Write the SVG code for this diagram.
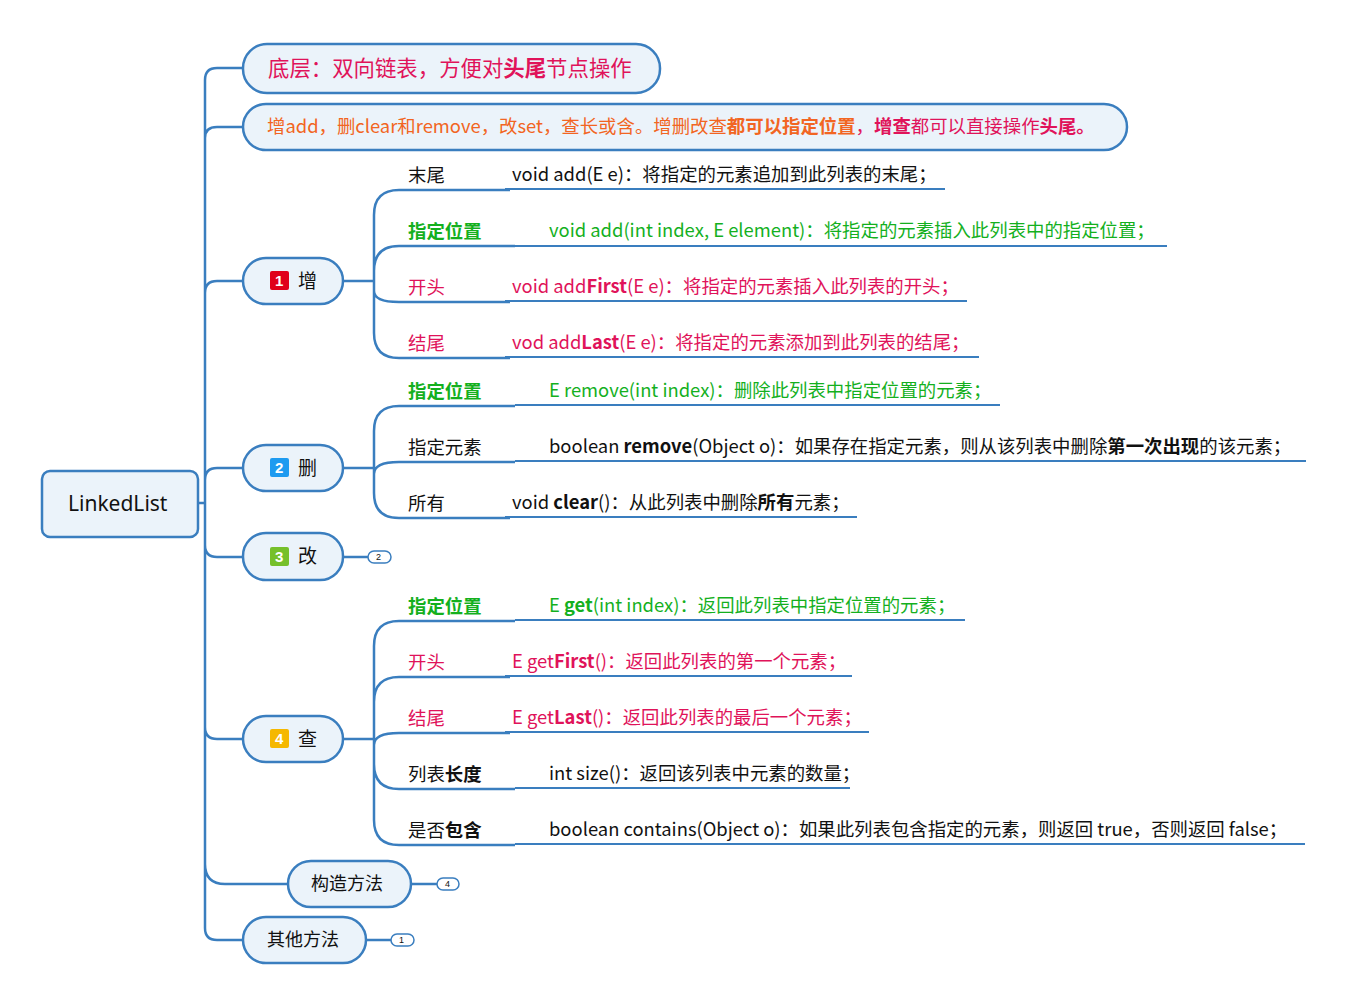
<svg xmlns="http://www.w3.org/2000/svg" width="1350" height="1007" viewBox="0 0 1350 1007">
<style>
text{font-family:"Noto Sans CJK SC","Noto Sans",sans-serif;font-size:18.4px;fill:#111}
.n{fill:#EBF3FA;stroke:#3A7EBF;stroke-width:2.5}
.c{fill:none;stroke:#3A7EBF;stroke-width:2.5}
.u{fill:none;stroke:#3A7EBF;stroke-width:2}
.r{fill:#E0135A}.o{fill:#F26522}.g{fill:#14B01E}
.b{font-weight:bold}
.t1{font-size:21.4px}
.cnt{fill:#fff;stroke:#3A7EBF;stroke-width:1.5}
.ct{font-size:9px;font-family:"Liberation Sans",sans-serif}
.ic{fill:#fff;font-weight:bold;font-size:15px;font-family:"Liberation Sans",sans-serif}
</style>
<g id="connectors">
<path class="c" d="M198,503 H205 M205,80 Q205,68 217,68 H243 M205,138 Q205,127 217,127 H243 M205,293 Q205,281 217,281 H243 M205,480 Q205,468 217,468 H243 M205,545 Q205,557 217,557 H243 M205,727 Q205,739 217,739 H243 M205,864 Q205,884 225,884 H288 M205,928 Q205,940 217,940 H243 M205,80 V928"/>
<path class="c" d="M343,281 H374 M374,281 V215 Q374,190 399,190 H510 M374,281 V271 Q374,246 399,246 H515 M374,281 V291 Q374,302 399,302 H510 M374,281 V333 Q374,358 399,358 H510"/>
<path class="u" d="M505,189 H945 M515,246 H1167 M505,301 H967 M505,357 H979"/>
<path class="c" d="M343,468 H374 M374,468 V431 Q374,406 399,406 H515 M374,468 V474 Q374,462 399,462 H515 M374,468 V493 Q374,518 399,518 H510"/>
<path class="u" d="M515,405 H1000 M515,461 H1306 M505,517 H857"/>
<path class="c" d="M343,557 H368"/>
<path class="c" d="M343,739 H374 M374,739 V646 Q374,621 399,621 H515 M374,739 V702 Q374,677 399,677 H510 M374,739 V745 Q374,733 399,733 H510 M374,739 V764 Q374,789 399,789 H515 M374,739 V820 Q374,845 399,845 H515"/>
<path class="u" d="M515,620 H965 M505,676 H852 M505,732 H869 M515,788 H850 M515,844 H1305"/>
<path class="c" d="M411,884 H437 M366,940 H391"/>
</g>
<g id="root"><rect class="n" x="42" y="471" width="156" height="66" rx="8"/><text x="68" y="511" style="font-family:'Noto Sans','Noto Sans CJK SC',sans-serif;font-size:21px">LinkedList</text></g>
<g id="n1"><rect class="n" x="243" y="44" width="417" height="49" rx="24"/><text x="268" y="76" class="t1 r">底层：双向链表，方便对<tspan class="b">头尾</tspan>节点操作</text></g>
<g id="n2"><rect class="n" x="243" y="104" width="884" height="46" rx="23"/><text x="267" y="133" class="o">增add，删clear和remove，改set，查长或含。增删改查<tspan class="b">都可以指定位置</tspan><tspan class="r">，</tspan><tspan class="r b">增查</tspan><tspan class="r">都可以直接操作</tspan><tspan class="r b">头尾。</tspan></text></g>
<g id="add"><rect class="n" x="243" y="258" width="100" height="46" rx="23"/><rect x="270" y="271" width="19" height="19" rx="2" fill="#E0001B"/><text x="275" y="286" class="ic">1</text><text x="298" y="288" style="font-size:19px">增</text></g>
<g id="add-c">
<text x="408" y="182">末尾</text><text x="512" y="181">void add(E e)：将指定的元素追加到此列表的末尾；</text>
<text x="408" y="238" class="g b">指定位置</text><text x="549" y="237" class="g">void add(int index, E element)：将指定的元素插入此列表中的指定位置；</text>
<text x="408" y="294" class="r">开头</text><text x="512" y="293" class="r">void add<tspan class="b">First</tspan>(E e)：将指定的元素插入此列表的开头；</text>
<text x="408" y="350" class="r">结尾</text><text x="512" y="349" class="r">vod add<tspan class="b">Last</tspan>(E e)：将指定的元素添加到此列表的结尾；</text>
</g>
<g id="del"><rect class="n" x="243" y="445" width="100" height="46" rx="23"/><rect x="270" y="458" width="19" height="19" rx="2" fill="#1E9BF0"/><text x="275" y="473" class="ic">2</text><text x="298" y="475" style="font-size:19px">删</text></g>
<g id="del-c">
<text x="408" y="398" class="g b">指定位置</text><text x="549" y="397" class="g">E remove(int index)：删除此列表中指定位置的元素；</text>
<text x="408" y="454">指定元素</text><text x="549" y="453">boolean <tspan class="b">remove</tspan>(Object o)：如果存在指定元素，则从该列表中删除<tspan class="b">第一次出现</tspan>的该元素；</text>
<text x="408" y="510">所有</text><text x="512" y="509">void <tspan class="b">clear</tspan>()：从此列表中删除<tspan class="b">所有</tspan>元素；</text>
</g>
<g id="mod"><rect class="n" x="243" y="533" width="100" height="47" rx="23"/><rect x="270" y="547" width="19" height="19" rx="2" fill="#76C02B"/><text x="275" y="562" class="ic">3</text><text x="298" y="563" style="font-size:19px">改</text><rect class="cnt" x="368" y="551" width="23" height="12" rx="6"/><text x="376" y="560" class="ct">2</text></g>
<g id="get"><rect class="n" x="243" y="716" width="100" height="46" rx="23"/><rect x="270" y="729" width="19" height="19" rx="2" fill="#F5B800"/><text x="275" y="744" class="ic">4</text><text x="298" y="746" style="font-size:19px">查</text></g>
<g id="get-c">
<text x="408" y="613" class="g b">指定位置</text><text x="549" y="612" class="g">E <tspan class="b">get</tspan>(int index)：返回此列表中指定位置的元素；</text>
<text x="408" y="669" class="r">开头</text><text x="512" y="668" class="r">E get<tspan class="b">First</tspan>()：返回此列表的第一个元素；</text>
<text x="408" y="725" class="r">结尾</text><text x="512" y="724" class="r">E get<tspan class="b">Last</tspan>()：返回此列表的最后一个元素；</text>
<text x="408" y="781">列表<tspan class="b">长度</tspan></text><text x="549" y="780">int size()：返回该列表中元素的数量；</text>
<text x="408" y="837">是否<tspan class="b">包含</tspan></text><text x="549" y="836">boolean contains(Object o)：如果此列表包含指定的元素，则返回 true，否则返回 false；</text>
</g>
<g id="ctor"><rect class="n" x="288" y="861" width="123" height="46" rx="23"/><text x="311" y="890" style="font-size:18px">构造方法</text><rect class="cnt" x="437" y="878" width="22" height="12" rx="6"/><text x="445" y="887" class="ct">4</text></g>
<g id="other"><rect class="n" x="243" y="917" width="123" height="46" rx="23"/><text x="267" y="946" style="font-size:18px">其他方法</text><rect class="cnt" x="391" y="934" width="23" height="12" rx="6"/><text x="399" y="943" class="ct">1</text></g>
</svg>
